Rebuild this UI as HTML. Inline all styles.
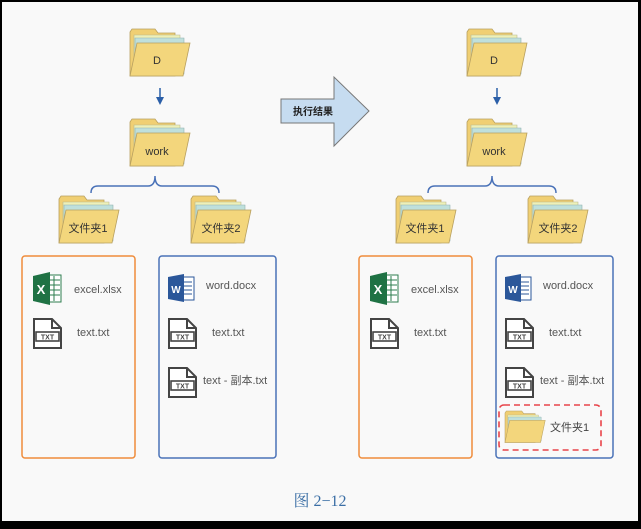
<!DOCTYPE html>
<html><head><meta charset="utf-8"><style>
html,body{margin:0;padding:0}
body{width:641px;height:524px;overflow:hidden;background:#000}
</style></head><body>
<svg width="641" height="524" xmlns="http://www.w3.org/2000/svg" font-family="Liberation Sans, Noto Sans CJK SC, sans-serif">
<defs>
<g id="folder">
<path d="M0 3 L0 47 L45 47 L45 4 L28 4 L25 0 L2 0 Z" fill="#f0cf73" stroke="#b8a060" stroke-width="0.8"/>
<path d="M4 6 L50 6 L50 45 L4 45 Z" fill="#eef0b8" stroke="#b8b890" stroke-width="0.6"/>
<path d="M5 9 L54 9 L54 45 L5 45 Z" fill="#bfe0dc" stroke="#90b0b0" stroke-width="0.6"/>
<path d="M7 14 L60 14 L53 47 L0 47 Z" fill="#f3d67c" stroke="#b8a060" stroke-width="0.8"/>
</g>
<g id="txt">
<path d="M1 1 L19 1 L28 10 L28 30 L1 30 Z" fill="#fff" stroke="#444" stroke-width="2"/>
<path d="M19 1 L19 10 L28 10" fill="none" stroke="#444" stroke-width="2"/>
<rect x="3" y="14" width="23" height="9" fill="#fff" stroke="#444" stroke-width="1.6"/>
<text x="14.5" y="21.5" font-size="7" font-weight="bold" text-anchor="middle" fill="#444">TXT</text>
</g>
<g id="excel">
<rect x="10" y="3" width="18" height="27" fill="#fff" stroke="#2e7d4f" stroke-width="1"/>
<path d="M16 8H27M16 13H27M16 18H27M16 23H27M21 4V29" stroke="#2e7d4f" stroke-width="1"/>
<path d="M0 4 L17 0 L17 33 L0 29 Z" fill="#1f7244"/>
<text x="8" y="22" font-size="13" font-weight="bold" fill="#fff" text-anchor="middle">X</text>
</g>
<g id="word">
<rect x="9" y="3" width="17" height="23" fill="#fff" stroke="#2b579a" stroke-width="1"/>
<path d="M15 8H24M15 12H24M15 16H24M15 20H24" stroke="#2b579a" stroke-width="1"/>
<path d="M0 3 L16 0 L16 28 L0 25 Z" fill="#2b579a"/>
<text x="8" y="19" font-size="10" font-weight="bold" fill="#fff" text-anchor="middle">W</text>
</g>
<g id="side">
<use href="#folder" x="130" y="29"/>
<text x="157" y="64" font-size="11" text-anchor="middle" fill="#333">D</text>
<path d="M160 88 V99" stroke="#2b5fa8" stroke-width="1.5"/>
<path d="M156 97 L164 97 L160 105 Z" fill="#2b5fa8"/>
<use href="#folder" x="130" y="119"/>
<text x="157" y="155" font-size="11" text-anchor="middle" fill="#333">work</text>
<path d="M91 193 Q91 186 98 186 L148 186 Q155 186 155 176 Q155 186 162 186 L212 186 Q219 186 219 193" fill="none" stroke="#4a72b8" stroke-width="1.5"/>
<use href="#folder" x="59" y="196"/>
<text x="88" y="232" font-size="11" text-anchor="middle" fill="#333">文件夹1</text>
<use href="#folder" x="191" y="196"/>
<text x="221" y="232" font-size="11" text-anchor="middle" fill="#333">文件夹2</text>
<rect x="22" y="256" width="113" height="202" rx="3" fill="none" stroke="#ef8c3b" stroke-width="1.5"/>
<rect x="159" y="256" width="117" height="202" rx="3" fill="none" stroke="#4a72b8" stroke-width="1.5"/>
<use href="#excel" x="33" y="272"/>
<text x="74" y="293" font-size="11" fill="#555">excel.xlsx</text>
<use href="#txt" x="33" y="318"/>
<text x="77" y="336" font-size="11" fill="#555">text.txt</text>
<use href="#word" x="168" y="274"/>
<text x="206" y="289" font-size="11" fill="#555">word.docx</text>
<use href="#txt" x="168" y="318"/>
<text x="212" y="336" font-size="11" fill="#555">text.txt</text>
<use href="#txt" x="168" y="367"/>
<text x="203" y="384" font-size="11" fill="#555">text - 副本.txt</text>
</g>
</defs>
<rect x="2" y="2" width="636" height="519" fill="#f9f9f9"/>
<use href="#side"/>
<use href="#side" x="337"/>
<path d="M281 99 L334 99 L334 77 L369 111 L334 146 L334 123 L281 123 Z" fill="#c6dcf0" stroke="#777" stroke-width="1"/>
<text x="313" y="115" font-size="10" font-weight="bold" text-anchor="middle" fill="#222">执行结果</text>
<rect x="499" y="405" width="102" height="45" rx="5" fill="none" stroke="#e8444a" stroke-width="1.6" stroke-dasharray="6,4"/>
<g transform="translate(505,411) scale(0.67)"><use href="#folder"/></g>
<text x="550" y="431" font-size="11" fill="#444">文件夹1</text>
<text x="320" y="506" font-size="16" text-anchor="middle" fill="#3a6ea5" font-family="Liberation Serif, Noto Serif CJK SC, serif">图 2−12</text>
</svg>
</body></html>
